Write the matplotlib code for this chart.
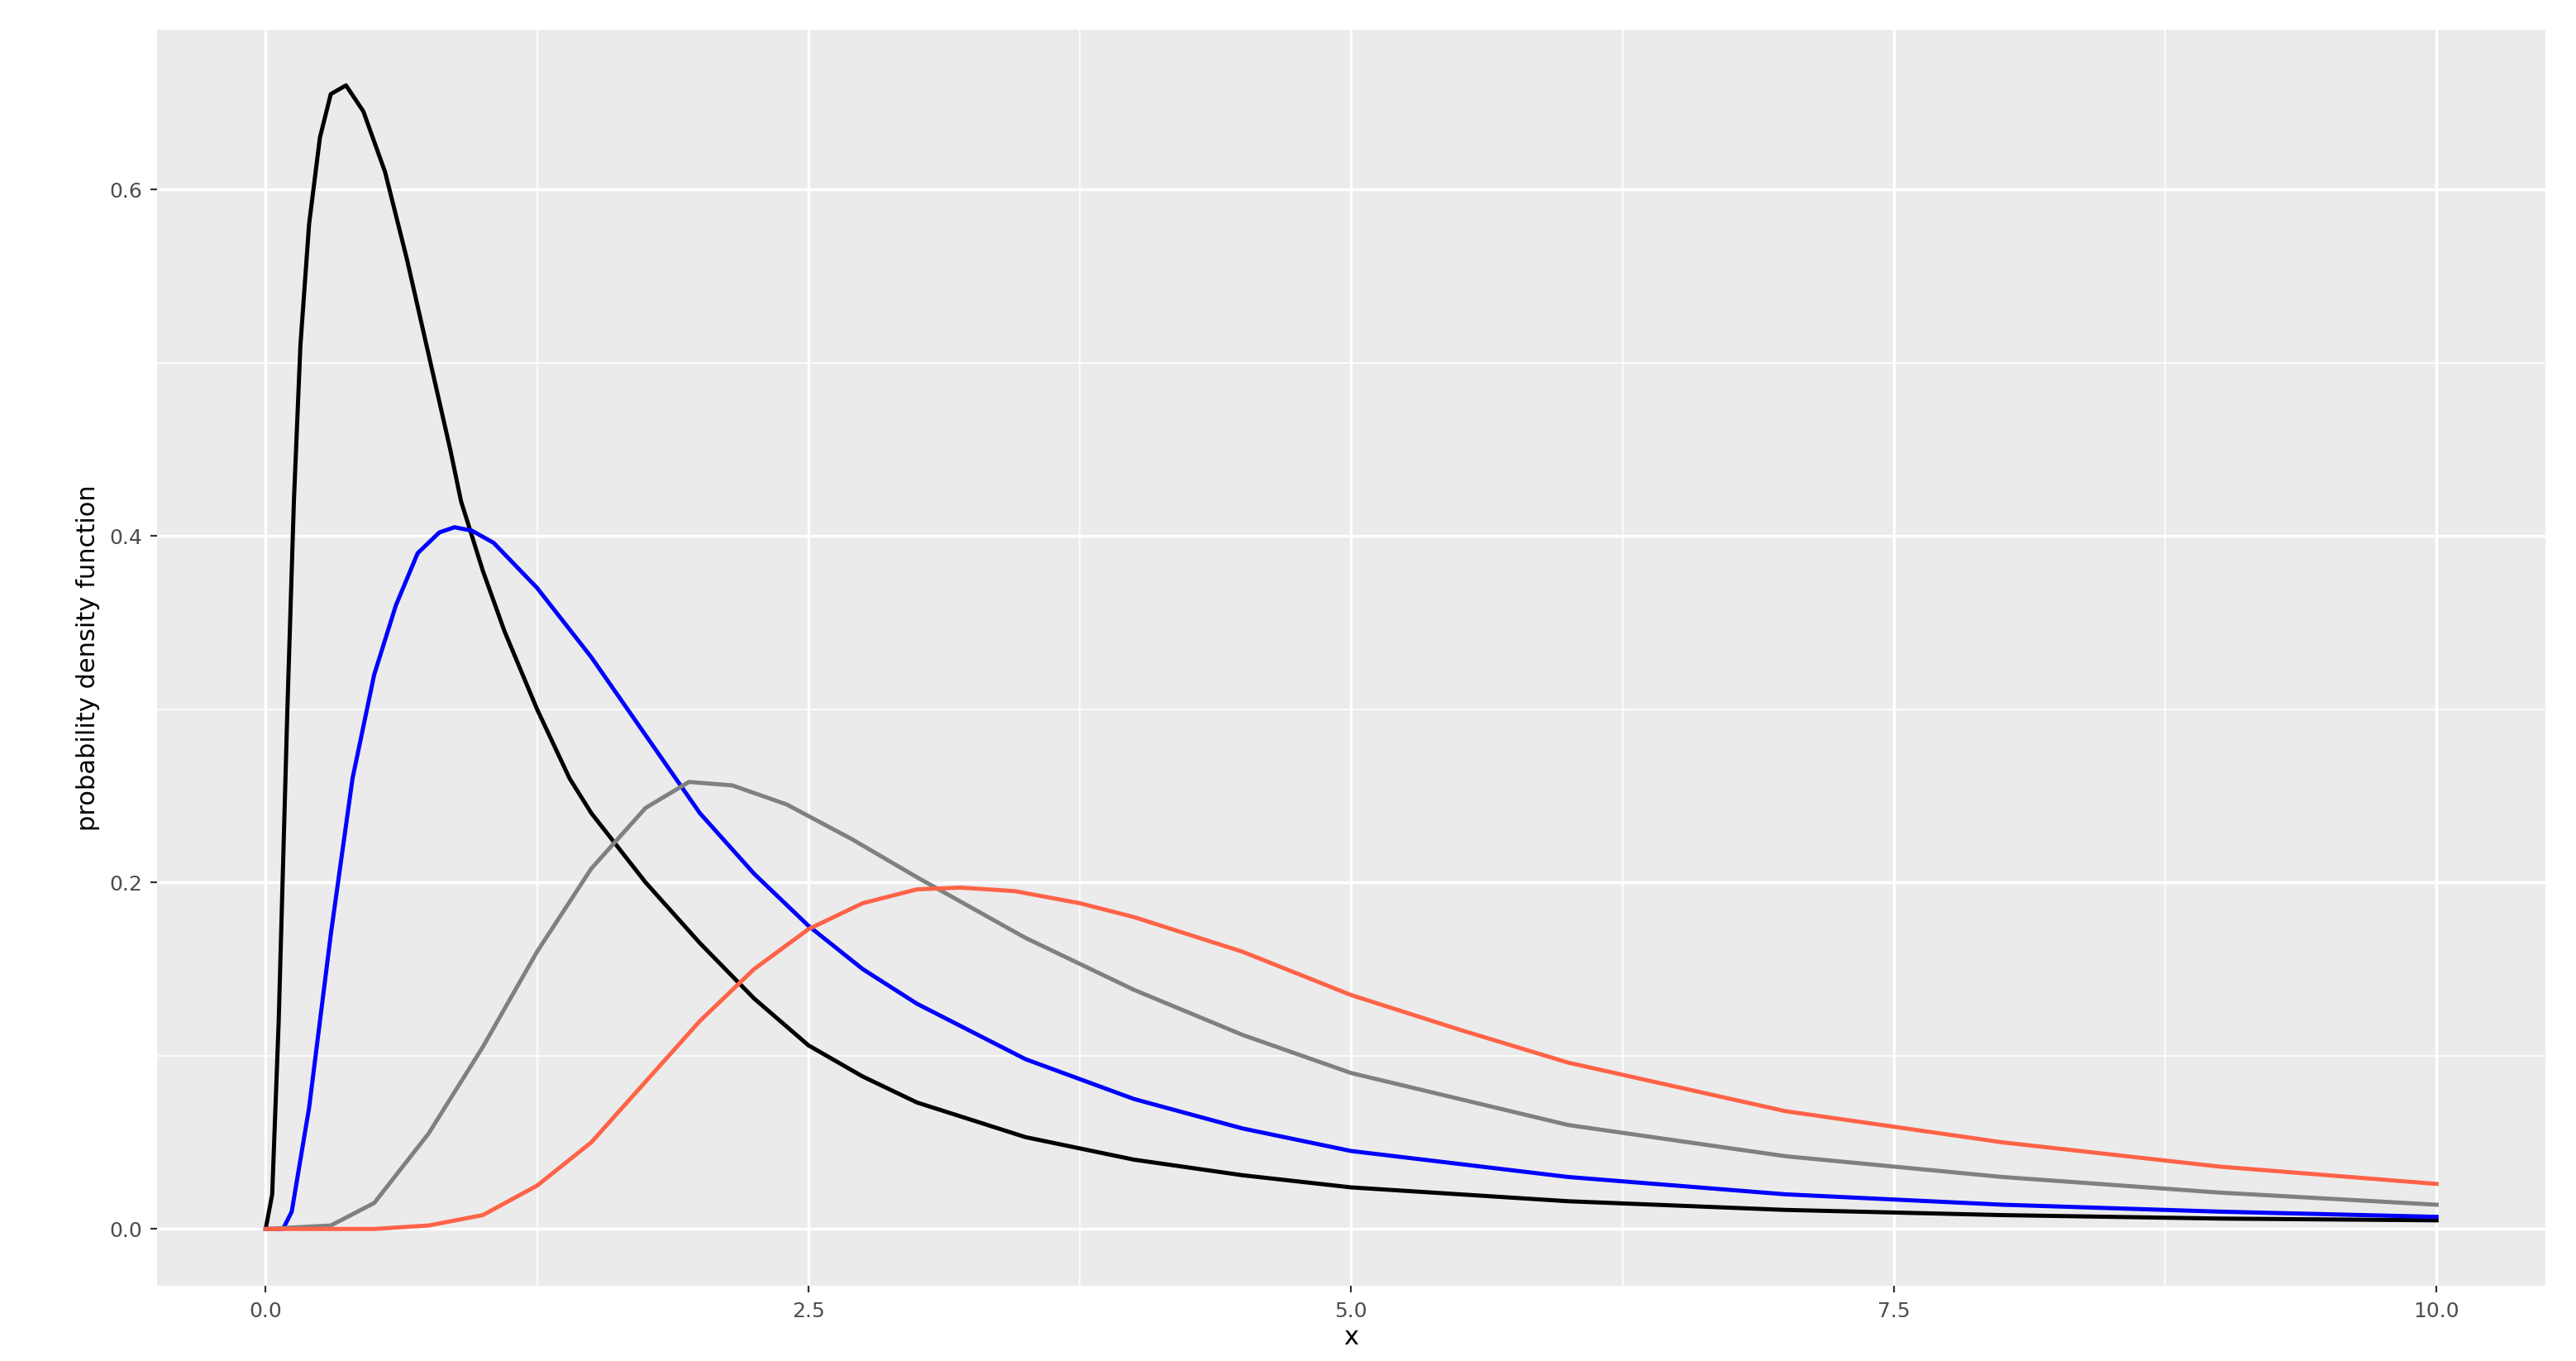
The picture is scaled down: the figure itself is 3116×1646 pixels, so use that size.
import matplotlib
matplotlib.use("Agg")
import matplotlib.pyplot as plt

black_x = [0,0.03,0.06,0.1,0.13,0.16,0.2,0.25,0.3,0.37,0.45,0.55,0.65,0.75,0.85,0.9,1.0,1.1,1.25,1.4,1.5,1.75,2.0,2.25,2.5,2.75,3,3.5,4,4.5,5,6,7,8,9,10]
black_y = [0,0.02,0.12,0.3,0.42,0.51,0.58,0.63,0.655,0.66,0.645,0.61,0.56,0.505,0.45,0.42,0.38,0.345,0.30,0.26,0.24,0.2,0.165,0.133,0.106,0.088,0.073,0.053,0.04,0.031,0.024,0.016,0.011,0.008,0.006,0.005]
blue_x = [0,0.08,0.12,0.2,0.3,0.4,0.5,0.6,0.7,0.8,0.87,0.95,1.05,1.25,1.5,1.75,2,2.25,2.5,2.75,3,3.5,4,4.5,5,6,7,8,9,10]
blue_y = [0,0.0,0.01,0.07,0.17,0.26,0.32,0.36,0.39,0.402,0.405,0.403,0.396,0.37,0.33,0.285,0.24,0.205,0.175,0.15,0.13,0.098,0.075,0.058,0.045,0.03,0.02,0.014,0.01,0.007]
gray_x = [0,0.3,0.5,0.75,1,1.25,1.5,1.75,1.95,2.15,2.4,2.7,3,3.5,4,4.5,5,6,7,8,9,10]
gray_y = [0,0.002,0.015,0.055,0.105,0.16,0.208,0.243,0.258,0.256,0.245,0.225,0.203,0.168,0.138,0.112,0.09,0.06,0.042,0.03,0.021,0.014]
red_x = [0,0.5,0.75,1,1.25,1.5,1.75,2,2.25,2.5,2.75,3.0,3.2,3.45,3.75,4,4.5,5,5.5,6,7,8,9,10]
red_y = [0,0.0,0.002,0.008,0.025,0.05,0.085,0.12,0.15,0.173,0.188,0.196,0.197,0.195,0.188,0.18,0.16,0.135,0.115,0.096,0.068,0.05,0.036,0.026]

xticks = [0.0, 2.5, 5.0, 7.5, 10.0]
yticks = [0.0, 0.2, 0.4, 0.6]

fig = plt.figure(figsize=(15.58, 8.23), dpi=200)
ax = fig.add_axes([0.061, 0.055, 0.927, 0.923])
ax.set_facecolor("#EBEBEB")
for s in ax.spines.values():
    s.set_visible(False)
for v in [1.25, 3.75, 6.25, 8.75]:
    ax.axvline(v, color="white", lw=0.6, zorder=0)
for v in [0.1, 0.3, 0.5]:
    ax.axhline(v, color="white", lw=0.6, zorder=0)
for v in xticks:
    ax.axvline(v, color="white", lw=1.2, zorder=0)
for v in yticks:
    ax.axhline(v, color="white", lw=1.2, zorder=0)

kw = dict(lw=1.8, solid_joinstyle="round")
ax.plot(black_x, black_y, color="black", **kw)
ax.plot(blue_x, blue_y, color="blue", **kw)
ax.plot(gray_x, gray_y, color="gray", **kw)
ax.plot(red_x, red_y, color="tomato", **kw)

ax.set_xlim(-0.5, 10.5)
ax.set_ylim(-0.033, 0.692)
ax.set_xticks(xticks)
ax.set_xticklabels(["0.0", "2.5", "5.0", "7.5", "10.0"])
ax.set_yticks(yticks)
ax.set_yticklabels(["0.0", "0.2", "0.4", "0.6"])
ax.tick_params(colors="#4D4D4D", labelsize=9, length=3, width=0.8, color="#333333")
ax.set_ylabel("probability density function", fontsize=11)
ax.set_xlabel("x", fontsize=11, labelpad=2)
fig.savefig("out.png", dpi=200)
